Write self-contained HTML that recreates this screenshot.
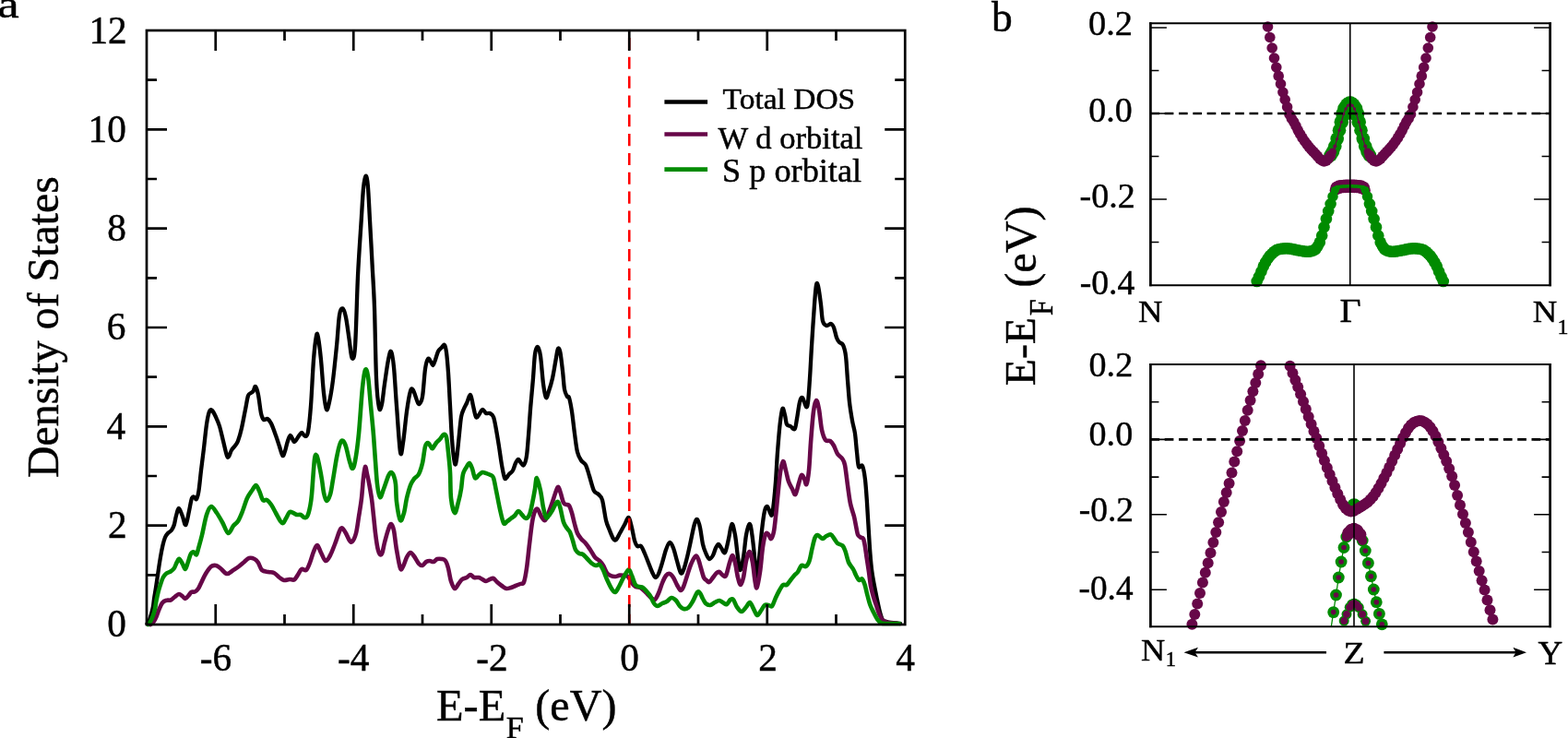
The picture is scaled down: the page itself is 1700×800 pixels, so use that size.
<!DOCTYPE html><html><head><meta charset="utf-8"><style>html,body{margin:0;padding:0;background:#fff;overflow:hidden}svg{display:block}text{font-family:"Liberation Serif","DejaVu Serif",serif;fill:#000;stroke:#000;stroke-width:0.45px}</style></head><body>
<svg width="1700" height="800" viewBox="0 0 1700 800">
<rect width="1700" height="800" fill="#fff"/>
<path d="M159.5 676.0C159.9 675.3 161.2 673.8 162.0 672.0C162.8 670.2 163.5 667.4 164.2 665.0C164.9 662.6 165.5 660.3 166.0 657.5C166.5 654.7 166.6 651.8 167.2 648.0C167.8 644.2 168.6 639.7 169.3 635.0C170.0 630.3 170.8 625.0 171.5 620.0C172.2 615.0 173.0 609.8 173.8 605.0C174.6 600.2 175.6 594.8 176.5 591.0C177.4 587.2 178.1 584.7 179.0 582.5C179.9 580.3 180.9 579.2 182.0 578.0C183.1 576.8 184.6 576.5 185.8 575.0C186.9 573.5 187.9 571.7 188.8 569.0C189.6 566.3 190.1 562.0 191.0 559.0C191.9 556.0 192.8 550.8 194.0 551.0C195.2 551.2 196.8 557.0 198.0 560.0C199.2 563.0 200.2 570.0 201.4 569.0C202.6 568.0 203.9 558.8 205.0 554.0C206.1 549.2 207.0 542.5 208.0 540.0C209.0 537.5 210.2 538.8 211.0 539.0C211.8 539.2 212.2 542.2 213.0 541.0C213.8 539.8 214.7 537.2 215.5 532.0C216.3 526.8 217.1 517.7 218.0 510.0C218.9 502.3 220.0 494.3 221.0 486.0C222.0 477.7 223.0 466.7 224.0 460.0C225.0 453.3 226.0 448.5 227.0 446.0C228.0 443.5 228.8 444.0 230.0 445.0C231.2 446.0 232.7 449.2 234.0 452.0C235.3 454.8 236.7 457.7 238.0 462.0C239.3 466.3 240.7 472.7 242.0 478.0C243.3 483.3 245.0 491.2 246.0 494.0C247.0 496.8 247.2 496.0 248.0 495.0C248.8 494.0 249.8 490.0 251.0 488.0C252.2 486.0 253.8 484.7 255.0 483.0C256.2 481.3 256.8 481.2 258.0 478.0C259.2 474.8 260.7 469.7 262.0 464.0C263.3 458.3 264.8 449.8 266.0 444.0C267.2 438.2 268.0 432.0 269.0 429.0C270.0 426.0 271.1 426.8 272.0 426.0C272.9 425.2 273.8 425.2 274.6 424.0C275.4 422.8 276.1 418.3 277.0 419.0C277.9 419.7 279.0 423.2 280.0 428.0C281.0 432.8 282.0 443.5 283.0 448.0C284.0 452.5 284.8 454.0 286.0 455.0C287.2 456.0 288.7 453.3 290.0 454.0C291.3 454.7 292.5 456.0 294.0 459.0C295.5 462.0 297.5 467.8 299.0 472.0C300.5 476.2 301.8 480.3 303.0 484.0C304.2 487.7 305.4 493.2 306.4 494.0C307.4 494.8 308.1 491.7 309.0 489.0C309.9 486.3 311.0 480.8 312.0 478.0C313.0 475.2 313.8 471.8 315.0 472.0C316.2 472.2 317.7 478.7 319.0 479.0C320.3 479.3 321.7 475.7 323.0 474.0C324.3 472.3 325.7 469.2 327.0 469.0C328.3 468.8 329.8 473.2 331.0 473.0C332.2 472.8 333.0 473.5 334.0 468.0C335.0 462.5 336.0 453.0 337.0 440.0C338.0 427.0 339.0 402.7 340.0 390.0C341.0 377.3 342.2 368.0 343.0 364.0C343.8 360.0 344.2 361.7 345.0 366.0C345.8 370.3 347.0 380.0 348.0 390.0C349.0 400.0 350.0 417.0 351.0 426.0C352.0 435.0 353.0 442.3 354.0 444.0C355.0 445.7 355.8 441.3 357.0 436.0C358.2 430.7 359.7 422.2 361.0 412.0C362.3 401.8 363.8 386.8 365.0 375.0C366.2 363.2 366.9 348.3 368.0 341.5C369.1 334.7 370.3 334.0 371.5 334.4C372.7 334.8 373.8 338.4 375.0 344.0C376.2 349.6 377.5 360.7 378.6 368.0C379.7 375.3 380.5 386.7 381.6 388.0C382.7 389.3 383.9 390.8 385.0 376.0C386.1 361.2 386.9 321.8 388.0 299.0C389.1 276.2 390.7 254.8 391.7 239.0C392.7 223.2 393.2 212.1 394.0 204.0C394.8 195.9 395.6 191.2 396.4 190.7C397.2 190.2 398.0 192.9 398.8 201.0C399.6 209.1 400.2 224.7 401.0 239.0C401.8 253.3 402.8 271.2 403.6 287.0C404.4 302.8 405.3 313.5 406.0 334.0C406.7 354.5 407.2 392.0 408.0 410.0C408.8 428.0 410.0 437.3 411.0 442.0C412.0 446.7 413.0 442.3 414.0 438.0C415.0 433.7 415.8 424.0 417.0 416.0C418.2 408.0 419.8 395.8 421.0 390.0C422.2 384.2 423.0 379.7 424.0 381.0C425.0 382.3 426.0 388.2 427.0 398.0C428.0 407.8 428.8 424.7 430.0 440.0C431.2 455.3 432.8 483.3 434.0 490.0C435.2 496.7 435.8 487.3 437.0 480.0C438.2 472.7 439.7 455.3 441.0 446.0C442.3 436.7 443.8 427.8 445.0 424.0C446.2 420.2 446.8 421.3 448.0 423.0C449.2 424.7 450.9 431.5 452.0 434.0C453.1 436.5 453.6 438.7 454.6 438.0C455.6 437.3 456.9 436.3 458.0 430.0C459.1 423.7 460.0 406.8 461.0 400.0C462.0 393.2 463.0 390.3 464.0 389.0C465.0 387.7 466.1 390.8 467.0 392.0C467.9 393.2 468.6 396.3 469.4 396.0C470.2 395.7 471.1 392.5 472.0 390.0C472.9 387.5 473.9 383.2 475.0 381.0C476.1 378.8 477.4 378.2 478.6 377.0C479.8 375.8 481.1 373.2 482.0 374.0C482.9 374.8 483.3 377.0 484.0 382.0C484.7 387.0 485.3 394.3 486.0 404.0C486.7 413.7 487.3 428.0 488.0 440.0C488.7 452.0 489.2 465.7 490.0 476.0C490.8 486.3 492.2 498.3 493.0 502.0C493.8 505.7 494.3 502.3 495.0 498.0C495.7 493.7 496.6 483.7 497.4 476.0C498.2 468.3 499.1 457.5 500.0 452.0C500.9 446.5 502.0 445.5 503.0 443.0C504.0 440.5 504.8 439.5 506.0 437.0C507.2 434.5 508.8 427.5 510.0 428.0C511.2 428.5 512.0 436.0 513.0 440.0C514.0 444.0 515.0 450.3 516.0 452.0C517.0 453.7 517.8 451.3 519.0 450.0C520.2 448.7 521.7 444.3 523.0 444.0C524.3 443.7 525.7 447.3 527.0 448.0C528.3 448.7 529.7 447.3 531.0 448.0C532.3 448.7 533.8 449.0 535.0 452.0C536.2 455.0 537.0 460.7 538.0 466.0C539.0 471.3 540.0 477.7 541.0 484.0C542.0 490.3 543.0 498.3 544.0 504.0C545.0 509.7 546.2 515.7 547.0 518.0C547.8 520.3 548.2 518.7 549.0 518.0C549.8 517.3 550.8 515.3 552.0 514.0C553.2 512.7 554.8 512.0 556.0 510.0C557.2 508.0 558.0 504.0 559.0 502.0C560.0 500.0 561.0 498.0 562.0 498.0C563.0 498.0 564.0 501.0 565.0 502.0C566.0 503.0 567.0 505.3 568.0 504.0C569.0 502.7 570.2 499.3 571.0 494.0C571.8 488.7 572.3 480.3 573.0 472.0C573.7 463.7 574.2 454.3 575.0 444.0C575.8 433.7 577.2 420.0 578.0 410.0C578.8 400.0 579.2 389.7 580.0 384.0C580.8 378.3 582.0 375.7 583.0 376.0C584.0 376.3 585.0 379.3 586.0 386.0C587.0 392.7 588.0 408.5 589.0 416.0C590.0 423.5 591.0 429.7 592.0 431.0C593.0 432.3 593.8 427.5 595.0 424.0C596.2 420.5 597.7 415.7 599.0 410.0C600.3 404.3 601.6 395.3 602.6 390.0C603.6 384.7 604.2 379.3 605.0 378.0C605.8 376.7 606.6 378.0 607.4 382.0C608.2 386.0 609.2 395.3 610.0 402.0C610.8 408.7 611.2 417.3 612.0 422.0C612.8 426.7 614.2 428.5 615.0 430.0C615.8 431.5 616.2 428.3 617.0 431.0C617.8 433.7 619.0 439.5 620.0 446.0C621.0 452.5 622.0 462.7 623.0 470.0C624.0 477.3 624.8 485.2 626.0 490.0C627.2 494.8 628.5 496.7 630.0 499.0C631.5 501.3 633.5 501.2 635.0 504.0C636.5 506.8 637.5 511.3 639.0 516.0C640.5 520.7 642.3 528.7 644.0 532.0C645.7 535.3 647.5 534.3 649.0 536.0C650.5 537.7 651.7 537.3 653.0 542.0C654.3 546.7 655.7 558.5 657.0 564.0C658.3 569.5 659.7 571.7 661.0 575.0C662.3 578.3 663.8 582.3 665.0 584.0C666.2 585.7 666.8 586.0 668.0 585.0C669.2 584.0 670.5 580.7 672.0 578.0C673.5 575.3 675.4 571.8 677.0 569.0C678.6 566.2 680.3 560.5 681.6 561.0C682.9 561.5 683.9 567.8 685.0 572.0C686.1 576.2 687.0 582.7 688.0 586.0C689.0 589.3 689.8 591.0 691.0 592.0C692.2 593.0 693.7 590.7 695.0 592.0C696.3 593.3 697.7 597.0 699.0 600.0C700.3 603.0 701.7 606.7 703.0 610.0C704.3 613.3 705.7 617.3 707.0 620.0C708.3 622.7 709.4 625.7 710.6 626.0C711.8 626.3 712.8 624.7 714.0 622.0C715.2 619.3 716.7 614.3 718.0 610.0C719.3 605.7 720.7 599.7 722.0 596.0C723.3 592.3 724.7 588.3 726.0 588.0C727.3 587.7 728.7 590.7 730.0 594.0C731.3 597.3 732.7 603.5 734.0 608.0C735.3 612.5 736.8 619.3 738.0 621.0C739.2 622.7 739.8 620.8 741.0 618.0C742.2 615.2 743.7 609.3 745.0 604.0C746.3 598.7 747.7 592.0 749.0 586.0C750.3 580.0 751.8 571.8 753.0 568.0C754.2 564.2 755.0 562.3 756.0 563.0C757.0 563.7 758.0 567.5 759.0 572.0C760.0 576.5 761.0 585.5 762.0 590.0C763.0 594.5 763.8 596.3 765.0 599.0C766.2 601.7 767.7 605.5 769.0 606.0C770.3 606.5 771.8 604.0 773.0 602.0C774.2 600.0 775.0 596.0 776.0 594.0C777.0 592.0 778.0 590.0 779.0 590.0C780.0 590.0 780.8 592.5 782.0 594.0C783.2 595.5 784.7 600.7 786.0 599.0C787.3 597.3 788.8 589.2 790.0 584.0C791.2 578.8 792.2 568.7 793.4 568.0C794.6 567.3 795.9 574.0 797.0 580.0C798.1 586.0 799.1 597.7 800.0 604.0C800.9 610.3 801.6 618.0 802.6 618.0C803.6 618.0 804.9 610.3 806.0 604.0C807.1 597.7 807.9 586.0 809.0 580.0C810.1 574.0 811.6 568.5 812.6 568.0C813.6 567.5 814.2 571.8 815.0 577.0C815.8 582.2 816.8 590.8 817.6 599.0C818.4 607.2 819.1 624.5 820.0 626.0C820.9 627.5 821.7 616.5 822.7 608.0C823.7 599.5 825.0 584.0 826.0 575.0C827.0 566.0 828.0 558.3 829.0 554.0C830.0 549.7 831.0 548.7 832.0 549.0C833.0 549.3 834.2 554.5 835.0 556.0C835.8 557.5 836.3 560.0 837.0 558.0C837.7 556.0 838.3 550.0 839.0 544.0C839.7 538.0 840.3 531.0 841.0 522.0C841.7 513.0 842.2 500.3 843.0 490.0C843.8 479.7 844.7 467.8 845.6 460.0C846.5 452.2 847.5 444.7 848.4 443.0C849.3 441.3 850.2 447.2 851.0 450.0C851.8 452.8 852.0 458.0 853.0 460.0C854.0 462.0 855.6 461.2 857.0 462.0C858.4 462.8 860.4 466.3 861.6 465.0C862.8 463.7 863.1 458.8 864.0 454.0C864.9 449.2 866.0 439.8 867.0 436.0C868.0 432.2 868.8 430.2 870.0 431.0C871.2 431.8 873.0 440.2 874.0 441.0C875.0 441.8 875.3 441.2 876.0 436.0C876.7 430.8 877.3 420.2 878.0 410.0C878.7 399.8 879.2 388.3 880.0 375.0C880.8 361.7 882.2 341.0 883.0 330.0C883.8 319.0 884.3 312.3 885.0 309.0C885.7 305.7 886.2 306.5 887.0 310.0C887.8 313.5 889.2 323.7 890.0 330.0C890.8 336.3 891.0 344.2 892.0 348.0C893.0 351.8 894.5 352.5 896.0 353.0C897.5 353.5 899.7 350.7 901.0 351.0C902.3 351.3 903.0 352.5 904.0 355.0C905.0 357.5 906.0 363.3 907.0 366.0C908.0 368.7 908.8 369.7 910.0 371.0C911.2 372.3 912.8 371.5 914.0 374.0C915.2 376.5 916.2 379.7 917.0 386.0C917.8 392.3 918.3 403.7 919.0 412.0C919.7 420.3 920.2 428.7 921.0 436.0C921.8 443.3 923.0 450.3 924.0 456.0C925.0 461.7 926.2 464.3 927.0 470.0C927.8 475.7 928.3 484.0 929.0 490.0C929.7 496.0 930.0 503.5 931.0 506.0C932.0 508.5 933.8 502.7 935.0 505.0C936.2 507.3 937.2 513.3 938.0 520.0C938.8 526.7 939.2 533.3 940.0 545.0C940.8 556.7 941.9 578.0 942.7 590.0C943.5 602.0 944.1 609.5 945.0 617.0C945.9 624.5 947.0 629.5 948.0 635.0C949.0 640.5 950.0 645.2 951.0 650.0C952.0 654.8 953.0 659.8 954.0 663.5C955.0 667.2 956.0 670.3 957.0 672.0C958.0 673.7 958.5 673.0 960.0 673.5C961.5 674.0 963.3 674.6 966.0 675.0C968.7 675.4 974.3 675.8 976.0 676.0" fill="none" stroke="#000" stroke-width="4.3" stroke-linejoin="round" stroke-linecap="round"/>
<path d="M163.0 677.0C163.6 676.5 165.4 675.4 166.5 674.0C167.6 672.6 168.5 670.8 169.5 668.5C170.5 666.2 171.4 663.0 172.5 660.5C173.6 658.0 174.7 655.1 176.0 653.5C177.3 651.9 179.0 651.2 180.5 650.8C182.0 650.2 183.5 651.1 185.0 650.5C186.5 649.9 188.0 648.1 189.5 647.0C191.0 645.9 192.6 644.1 194.0 644.0C195.4 643.9 196.6 645.4 197.8 646.2C198.9 647.1 199.6 649.1 200.8 649.0C201.9 648.9 203.4 646.7 204.5 645.5C205.6 644.3 206.4 642.4 207.5 641.8C208.6 641.1 210.0 642.1 211.2 641.5C212.5 640.9 213.9 639.6 215.0 638.0C216.1 636.4 216.7 634.7 218.0 632.0C219.3 629.3 221.2 625.0 223.0 622.0C224.8 619.0 227.2 615.5 229.0 614.0C230.8 612.5 232.3 612.7 234.0 613.0C235.7 613.3 237.0 614.5 239.0 616.0C241.0 617.5 243.7 621.7 246.0 622.0C248.3 622.3 250.8 619.3 253.0 618.0C255.2 616.7 257.0 615.5 259.0 614.0C261.0 612.5 263.2 610.5 265.0 609.0C266.8 607.5 268.2 605.5 270.0 605.0C271.8 604.5 274.3 605.2 276.0 606.0C277.7 606.8 278.7 608.0 280.0 610.0C281.3 612.0 282.2 616.3 284.0 618.0C285.8 619.7 288.8 619.5 291.0 620.0C293.2 620.5 295.0 620.0 297.0 621.0C299.0 622.0 301.2 624.7 303.0 626.0C304.8 627.3 306.2 628.7 308.0 629.0C309.8 629.3 312.2 628.1 314.0 628.0C315.8 627.9 317.5 629.2 319.0 628.4C320.5 627.6 321.7 624.9 323.0 623.0C324.3 621.1 325.5 617.8 327.0 617.0C328.5 616.2 330.5 619.2 332.0 618.0C333.5 616.8 334.7 613.3 336.0 610.0C337.3 606.7 338.7 601.2 340.0 598.0C341.3 594.8 342.7 590.8 344.0 591.0C345.3 591.2 346.5 596.2 348.0 599.0C349.5 601.8 351.3 607.5 353.0 608.0C354.7 608.5 356.3 605.0 358.0 602.0C359.7 599.0 361.3 594.3 363.0 590.0C364.7 585.7 366.7 578.9 368.0 576.0C369.3 573.1 369.8 572.1 371.0 572.4C372.2 572.7 373.7 575.7 375.0 578.0C376.3 580.3 377.8 584.5 379.0 586.0C380.2 587.5 380.8 588.3 382.0 587.0C383.2 585.7 384.8 582.5 386.0 578.0C387.2 573.5 388.0 566.3 389.0 560.0C390.0 553.7 391.2 547.0 392.0 540.0C392.8 533.0 393.3 523.7 394.0 518.0C394.7 512.3 395.3 506.7 396.0 506.0C396.7 505.3 397.2 510.7 398.0 514.0C398.8 517.3 399.7 521.5 400.5 526.0C401.3 530.5 402.2 535.5 403.0 541.0C403.8 546.5 404.3 552.8 405.0 559.0C405.7 565.2 406.3 572.2 407.0 578.0C407.7 583.8 408.6 590.2 409.4 594.0C410.2 597.8 411.1 600.2 412.0 601.0C412.9 601.8 413.7 601.2 414.5 599.0C415.3 596.8 415.9 592.2 417.0 588.0C418.1 583.8 419.8 577.3 421.0 574.0C422.2 570.7 423.0 567.8 424.0 568.0C425.0 568.2 426.0 570.3 427.0 575.0C428.0 579.7 428.8 589.2 430.0 596.0C431.2 602.8 432.8 613.0 434.0 616.0C435.2 619.0 435.8 616.0 437.0 614.0C438.2 612.0 439.7 606.5 441.0 604.0C442.3 601.5 443.7 599.2 445.0 599.0C446.3 598.8 447.5 601.0 449.0 603.0C450.5 605.0 452.5 609.3 454.0 611.0C455.5 612.7 456.7 613.3 458.0 613.0C459.3 612.7 460.7 609.8 462.0 609.0C463.3 608.2 464.7 608.0 466.0 608.0C467.3 608.0 468.7 609.3 470.0 609.0C471.3 608.7 472.5 606.5 474.0 606.0C475.5 605.5 477.5 605.7 479.0 606.0C480.5 606.3 481.8 606.3 483.0 608.0C484.2 609.7 485.0 612.3 486.0 616.0C487.0 619.7 487.8 626.3 489.0 630.0C490.2 633.7 491.7 637.5 493.0 638.0C494.3 638.5 495.7 634.7 497.0 633.0C498.3 631.3 499.5 629.2 501.0 628.0C502.5 626.8 504.5 626.8 506.0 626.0C507.5 625.2 508.7 623.0 510.0 623.0C511.3 623.0 512.5 625.5 514.0 626.0C515.5 626.5 517.5 625.7 519.0 626.0C520.5 626.3 521.7 627.3 523.0 628.0C524.3 628.7 525.7 630.0 527.0 630.0C528.3 630.0 529.7 628.5 531.0 628.0C532.3 627.5 533.7 626.5 535.0 627.0C536.3 627.5 537.5 629.7 539.0 631.0C540.5 632.3 542.3 633.8 544.0 635.0C545.7 636.2 547.3 637.7 549.0 638.0C550.7 638.3 552.3 637.5 554.0 637.0C555.7 636.5 557.3 635.7 559.0 635.0C560.7 634.3 562.5 633.7 564.0 633.0C565.5 632.3 566.8 633.8 568.0 631.0C569.2 628.2 570.0 622.8 571.0 616.0C572.0 609.2 573.0 598.3 574.0 590.0C575.0 581.7 576.0 572.0 577.0 566.0C578.0 560.0 579.0 556.3 580.0 554.0C581.0 551.7 581.8 551.0 583.0 552.0C584.2 553.0 585.7 558.0 587.0 560.0C588.3 562.0 589.7 564.8 591.0 564.0C592.3 563.2 593.7 558.3 595.0 555.0C596.3 551.7 597.7 547.8 599.0 544.0C600.3 540.2 601.9 534.7 603.0 532.0C604.1 529.3 604.6 527.5 605.4 528.0C606.2 528.5 607.1 532.2 608.0 535.0C608.9 537.8 610.0 543.0 611.0 545.0C612.0 547.0 613.0 546.5 614.0 547.0C615.0 547.5 616.0 546.5 617.0 548.0C618.0 549.5 619.0 552.7 620.0 556.0C621.0 559.3 622.0 564.3 623.0 568.0C624.0 571.7 624.8 575.3 626.0 578.0C627.2 580.7 628.5 582.2 630.0 584.0C631.5 585.8 633.3 587.0 635.0 589.0C636.7 591.0 638.3 593.5 640.0 596.0C641.7 598.5 643.3 602.0 645.0 604.0C646.7 606.0 648.5 606.5 650.0 608.0C651.5 609.5 652.7 610.8 654.0 613.0C655.3 615.2 656.7 619.2 658.0 621.0C659.3 622.8 660.5 623.3 662.0 624.0C663.5 624.7 665.3 625.1 667.0 625.0C668.7 624.9 670.3 623.8 672.0 623.6C673.7 623.4 675.5 623.8 677.0 624.0C678.5 624.2 679.7 623.7 681.0 625.0C682.3 626.3 683.7 630.2 685.0 632.0C686.3 633.8 687.5 635.2 689.0 636.0C690.5 636.8 692.5 636.3 694.0 637.0C695.5 637.7 696.7 638.8 698.0 640.0C699.3 641.2 700.7 642.7 702.0 644.0C703.3 645.3 704.7 647.0 706.0 648.0C707.3 649.0 708.7 650.8 710.0 650.0C711.3 649.2 712.7 646.0 714.0 643.0C715.3 640.0 716.7 635.2 718.0 632.0C719.3 628.8 720.7 625.7 722.0 624.0C723.3 622.3 724.7 621.7 726.0 622.0C727.3 622.3 728.7 624.0 730.0 626.0C731.3 628.0 732.7 631.7 734.0 634.0C735.3 636.3 736.8 639.7 738.0 640.0C739.2 640.3 739.8 638.7 741.0 636.0C742.2 633.3 743.7 628.0 745.0 624.0C746.3 620.0 747.5 615.5 749.0 612.0C750.5 608.5 752.7 604.0 754.0 603.0C755.3 602.0 756.0 603.8 757.0 606.0C758.0 608.2 759.0 612.7 760.0 616.0C761.0 619.3 762.0 623.8 763.0 626.0C764.0 628.2 765.0 628.2 766.0 629.0C767.0 629.8 767.8 631.5 769.0 631.0C770.2 630.5 771.7 627.7 773.0 626.0C774.3 624.3 775.8 622.0 777.0 621.0C778.2 620.0 779.0 619.7 780.0 620.0C781.0 620.3 781.8 622.3 783.0 623.0C784.2 623.7 785.7 626.2 787.0 624.0C788.3 621.8 789.8 613.7 791.0 610.0C792.2 606.3 793.0 602.0 794.0 602.0C795.0 602.0 796.0 606.0 797.0 610.0C798.0 614.0 799.0 622.0 800.0 626.0C801.0 630.0 802.0 634.0 803.0 634.0C804.0 634.0 805.0 630.3 806.0 626.0C807.0 621.7 807.9 612.7 809.0 608.0C810.1 603.3 811.4 597.7 812.6 598.0C813.8 598.3 815.0 604.7 816.0 610.0C817.0 615.3 817.8 625.5 818.6 630.0C819.4 634.5 819.7 638.7 820.6 637.0C821.5 635.3 822.9 627.3 824.0 620.0C825.1 612.7 826.0 599.8 827.0 593.0C828.0 586.2 829.0 581.3 830.0 579.0C831.0 576.7 832.0 578.2 833.0 579.0C834.0 579.8 835.0 584.5 836.0 584.0C837.0 583.5 838.2 580.0 839.0 576.0C839.8 572.0 840.3 566.0 841.0 560.0C841.7 554.0 842.2 548.0 843.0 540.0C843.8 532.0 845.0 518.7 846.0 512.0C847.0 505.3 848.0 500.3 849.0 500.0C850.0 499.7 851.0 506.3 852.0 510.0C853.0 513.7 853.8 518.7 855.0 522.0C856.2 525.3 857.8 527.7 859.0 530.0C860.2 532.3 861.2 537.0 862.4 536.0C863.6 535.0 864.9 527.5 866.0 524.0C867.1 520.5 868.0 515.8 869.0 515.0C870.0 514.2 871.1 517.3 872.0 519.0C872.9 520.7 873.6 526.5 874.4 525.0C875.2 523.5 876.2 517.5 877.0 510.0C877.8 502.5 878.2 490.7 879.0 480.0C879.8 469.3 881.0 453.7 882.0 446.0C883.0 438.3 884.0 434.3 885.0 434.0C886.0 433.7 887.0 438.7 888.0 444.0C889.0 449.3 889.8 460.5 891.0 466.0C892.2 471.5 893.5 475.0 895.0 477.0C896.5 479.0 898.5 477.0 900.0 478.0C901.5 479.0 902.7 480.7 904.0 483.0C905.3 485.3 906.5 489.7 908.0 492.0C909.5 494.3 911.7 495.0 913.0 497.0C914.3 499.0 915.0 499.2 916.0 504.0C917.0 508.8 918.0 519.0 919.0 526.0C920.0 533.0 920.8 540.3 922.0 546.0C923.2 551.7 925.0 556.0 926.0 560.0C927.0 564.0 927.3 566.8 928.0 570.0C928.7 573.2 929.2 577.4 930.0 579.5C930.8 581.6 932.0 581.8 933.0 582.5C934.0 583.2 935.2 582.2 936.0 584.0C936.8 585.8 937.4 589.5 938.0 593.0C938.6 596.5 939.0 600.5 939.7 605.0C940.4 609.5 941.3 615.0 942.0 620.0C942.7 625.0 943.2 630.5 944.0 635.0C944.8 639.5 946.0 643.5 947.0 647.0C948.0 650.5 949.0 653.0 950.0 656.0C951.0 659.0 951.8 662.2 953.0 665.0C954.2 667.8 955.3 670.8 957.0 672.5C958.7 674.2 960.5 674.5 963.0 675.0C965.5 675.5 970.5 675.4 972.0 675.5" fill="none" stroke="#670748" stroke-width="4.6" stroke-linejoin="round" stroke-linecap="round"/>
<path d="M160.5 677.0C161.0 676.3 162.6 674.7 163.5 673.0C164.4 671.3 165.2 669.2 166.0 667.0C166.8 664.8 167.4 662.7 168.0 660.0C168.6 657.3 168.9 654.0 169.5 651.0C170.1 648.0 170.8 644.7 171.5 642.0C172.2 639.3 172.6 637.7 173.5 635.0C174.4 632.3 175.6 628.2 176.8 626.0C177.9 623.8 179.1 622.6 180.5 621.5C181.9 620.4 183.6 620.4 185.0 619.5C186.4 618.6 187.6 617.7 188.8 616.0C189.9 614.3 190.8 611.2 191.8 609.5C192.7 607.8 193.3 605.5 194.3 605.8C195.3 606.0 196.7 609.1 197.8 611.0C198.8 612.9 199.8 617.2 200.8 617.0C201.8 616.8 202.8 612.2 203.8 609.5C204.8 606.8 205.8 602.4 206.8 600.5C207.8 598.6 208.8 598.1 209.8 598.2C210.8 598.4 211.9 602.0 212.8 601.5C213.6 601.0 214.0 598.6 215.0 595.0C216.0 591.4 217.5 586.2 219.0 580.0C220.5 573.8 222.3 563.2 224.0 558.0C225.7 552.8 227.2 549.3 229.0 549.0C230.8 548.7 233.0 553.2 235.0 556.0C237.0 558.8 238.9 562.3 241.0 566.0C243.1 569.7 245.4 577.3 247.4 578.0C249.4 578.7 251.2 572.2 253.0 570.0C254.8 567.8 256.3 567.7 258.0 565.0C259.7 562.3 261.3 558.2 263.0 554.0C264.7 549.8 266.3 543.7 268.0 540.0C269.7 536.3 271.4 534.3 273.0 532.0C274.6 529.7 276.1 526.0 277.4 526.0C278.7 526.0 279.7 529.3 281.0 532.0C282.3 534.7 283.6 540.3 285.0 542.0C286.4 543.7 287.9 541.2 289.4 542.0C290.9 542.8 292.4 544.7 294.0 547.0C295.6 549.3 297.3 553.0 299.0 556.0C300.7 559.0 302.7 563.2 304.0 565.0C305.3 566.8 306.0 567.5 307.0 567.0C308.0 566.5 308.8 564.0 310.0 562.0C311.2 560.0 312.7 556.0 314.0 555.0C315.3 554.0 316.7 555.5 318.0 556.0C319.3 556.5 320.7 557.7 322.0 558.0C323.3 558.3 324.7 557.5 326.0 558.0C327.3 558.5 328.8 560.7 330.0 561.0C331.2 561.3 332.0 561.8 333.0 560.0C334.0 558.2 335.2 554.0 336.0 550.0C336.8 546.0 337.2 544.7 338.0 536.0C338.8 527.3 340.1 505.0 341.0 498.0C341.9 491.0 342.6 493.0 343.4 494.0C344.2 495.0 345.1 499.7 346.0 504.0C346.9 508.3 348.2 515.0 349.0 520.0C349.8 525.0 350.2 530.2 351.0 534.0C351.8 537.8 352.8 542.7 354.0 543.0C355.2 543.3 356.8 539.8 358.0 536.0C359.2 532.2 359.8 526.7 361.0 520.0C362.2 513.3 363.7 502.7 365.0 496.0C366.3 489.3 367.8 483.0 369.0 480.0C370.2 477.0 371.0 477.3 372.0 478.0C373.0 478.7 373.8 480.3 375.0 484.0C376.2 487.7 377.8 496.0 379.0 500.0C380.2 504.0 381.0 508.0 382.0 508.0C383.0 508.0 383.8 506.3 385.0 500.0C386.2 493.7 387.7 483.3 389.0 470.0C390.3 456.7 391.8 431.5 393.0 420.0C394.2 408.5 395.0 403.0 396.0 401.0C397.0 399.0 398.0 401.5 399.0 408.0C400.0 414.5 401.0 429.3 402.0 440.0C403.0 450.7 404.2 462.0 405.0 472.0C405.8 482.0 406.3 491.2 407.0 500.0C407.7 508.8 408.2 518.5 409.0 525.0C409.8 531.5 410.8 538.2 412.0 539.0C413.2 539.8 414.5 533.8 416.0 530.0C417.5 526.2 419.7 519.0 421.0 516.0C422.3 513.0 423.0 512.0 424.0 512.0C425.0 512.0 426.2 513.8 427.0 516.0C427.8 518.2 428.5 520.3 429.0 525.0C429.5 529.7 429.2 537.5 430.0 544.0C430.8 550.5 432.7 562.0 434.0 564.0C435.3 566.0 436.8 560.0 438.0 556.0C439.2 552.0 439.8 545.0 441.0 540.0C442.2 535.0 443.7 529.5 445.0 526.0C446.3 522.5 447.5 521.0 449.0 519.0C450.5 517.0 452.5 516.8 454.0 514.0C455.5 511.2 456.8 507.0 458.0 502.0C459.2 497.0 460.0 487.7 461.0 484.0C462.0 480.3 463.0 480.0 464.0 480.0C465.0 480.0 466.2 483.0 467.0 484.0C467.8 485.0 468.0 486.7 469.0 486.0C470.0 485.3 471.7 481.7 473.0 480.0C474.3 478.3 475.7 477.5 477.0 476.0C478.3 474.5 479.8 471.3 481.0 471.0C482.2 470.7 483.2 470.8 484.0 474.0C484.8 477.2 485.3 483.7 486.0 490.0C486.7 496.3 487.5 503.7 488.0 512.0C488.5 520.3 488.2 532.7 489.0 540.0C489.8 547.3 491.7 555.3 493.0 556.0C494.3 556.7 495.8 548.3 497.0 544.0C498.2 539.7 499.2 535.0 500.0 530.0C500.8 525.0 501.0 518.0 502.0 514.0C503.0 510.0 504.8 508.0 506.0 506.0C507.2 504.0 508.0 501.7 509.0 502.0C510.0 502.3 511.0 505.3 512.0 508.0C513.0 510.7 513.8 516.8 515.0 518.0C516.2 519.2 517.7 516.0 519.0 515.0C520.3 514.0 521.7 512.3 523.0 512.0C524.3 511.7 525.5 512.5 527.0 513.0C528.5 513.5 530.7 514.2 532.0 515.0C533.3 515.8 534.0 515.2 535.0 518.0C536.0 520.8 536.8 526.3 538.0 532.0C539.2 537.7 540.7 546.2 542.0 552.0C543.3 557.8 544.7 564.8 546.0 567.0C547.3 569.2 548.7 565.8 550.0 565.0C551.3 564.2 552.7 563.0 554.0 562.0C555.3 561.0 556.7 560.3 558.0 559.0C559.3 557.7 560.7 554.2 562.0 554.0C563.3 553.8 564.7 556.7 566.0 558.0C567.3 559.3 568.7 562.0 570.0 562.0C571.3 562.0 572.8 560.7 574.0 558.0C575.2 555.3 576.0 550.7 577.0 546.0C578.0 541.3 579.2 534.7 580.0 530.0C580.8 525.3 581.0 517.7 582.0 518.0C583.0 518.3 584.8 526.7 586.0 532.0C587.2 537.3 588.0 545.2 589.0 550.0C590.0 554.8 591.0 559.5 592.0 561.0C593.0 562.5 593.8 560.3 595.0 559.0C596.2 557.7 597.5 555.5 599.0 553.0C600.5 550.5 602.7 544.7 604.0 544.0C605.3 543.3 605.8 545.3 607.0 549.0C608.2 552.7 609.7 562.0 611.0 566.0C612.3 570.0 613.8 571.2 615.0 573.0C616.2 574.8 617.0 574.8 618.0 577.0C619.0 579.2 620.0 582.8 621.0 586.0C622.0 589.2 622.8 593.7 624.0 596.0C625.2 598.3 626.7 599.2 628.0 600.0C629.3 600.8 630.5 600.0 632.0 601.0C633.5 602.0 635.3 604.3 637.0 606.0C638.7 607.7 640.5 609.8 642.0 611.0C643.5 612.2 644.7 612.8 646.0 613.0C647.3 613.2 648.7 611.2 650.0 612.0C651.3 612.8 652.7 615.3 654.0 618.0C655.3 620.7 656.5 624.7 658.0 628.0C659.5 631.3 661.5 635.7 663.0 638.0C664.5 640.3 665.7 642.3 667.0 642.0C668.3 641.7 669.5 638.7 671.0 636.0C672.5 633.3 674.2 629.1 676.0 626.0C677.8 622.9 680.1 617.9 681.6 617.6C683.1 617.3 683.8 621.3 685.0 624.0C686.2 626.7 687.7 632.0 689.0 634.0C690.3 636.0 691.7 635.5 693.0 636.0C694.3 636.5 695.7 636.2 697.0 637.0C698.3 637.8 699.7 639.5 701.0 641.0C702.3 642.5 703.7 643.8 705.0 646.0C706.3 648.2 707.7 652.2 709.0 654.0C710.3 655.8 711.5 657.0 713.0 657.0C714.5 657.0 716.3 654.8 718.0 654.0C719.7 653.2 721.3 653.0 723.0 652.0C724.7 651.0 726.3 648.2 728.0 648.0C729.7 647.8 731.5 649.5 733.0 651.0C734.5 652.5 735.7 655.5 737.0 657.0C738.3 658.5 739.5 659.7 741.0 660.0C742.5 660.3 744.3 660.3 746.0 659.0C747.7 657.7 749.3 654.8 751.0 652.0C752.7 649.2 754.7 643.5 756.0 642.0C757.3 640.5 758.0 641.8 759.0 643.0C760.0 644.2 761.0 647.2 762.0 649.0C763.0 650.8 763.7 652.8 765.0 654.0C766.3 655.2 768.3 656.2 770.0 656.0C771.7 655.8 773.3 653.8 775.0 653.0C776.7 652.2 778.3 650.8 780.0 651.0C781.7 651.2 783.7 653.3 785.0 654.0C786.3 654.7 786.8 655.7 788.0 655.0C789.2 654.3 790.8 650.8 792.0 650.0C793.2 649.2 793.8 648.7 795.0 650.0C796.2 651.3 797.5 655.8 799.0 658.0C800.5 660.2 802.3 663.0 804.0 663.0C805.7 663.0 807.5 659.7 809.0 658.0C810.5 656.3 811.7 652.7 813.0 653.0C814.3 653.3 815.7 657.7 817.0 660.0C818.3 662.3 819.7 666.7 821.0 667.0C822.3 667.3 823.7 663.8 825.0 662.0C826.3 660.2 827.7 657.0 829.0 656.0C830.3 655.0 831.7 655.8 833.0 656.0C834.3 656.2 835.7 658.3 837.0 657.0C838.3 655.7 839.7 650.8 841.0 648.0C842.3 645.2 843.7 642.3 845.0 640.0C846.3 637.7 847.7 635.0 849.0 634.0C850.3 633.0 851.7 634.8 853.0 634.0C854.3 633.2 855.7 630.7 857.0 629.0C858.3 627.3 859.7 625.5 861.0 624.0C862.3 622.5 863.7 621.8 865.0 620.0C866.3 618.2 867.5 614.0 869.0 613.0C870.5 612.0 872.3 614.8 873.8 614.0C875.2 613.2 876.4 611.2 877.5 608.0C878.6 604.8 879.5 598.7 880.5 594.5C881.5 590.3 882.5 585.4 883.5 583.0C884.5 580.6 885.1 579.8 886.5 580.0C887.9 580.2 890.2 583.8 891.8 584.0C893.3 584.2 894.5 581.8 896.0 581.0C897.5 580.2 899.3 579.0 900.8 579.5C902.2 580.0 903.3 582.4 904.5 584.0C905.7 585.6 906.5 587.8 908.0 589.0C909.5 590.2 912.1 590.1 913.5 591.5C914.9 592.9 915.4 594.5 916.5 597.5C917.6 600.5 918.6 606.2 920.0 609.5C921.4 612.8 923.6 614.5 925.0 617.0C926.4 619.5 927.4 622.5 928.5 624.5C929.6 626.5 930.5 628.5 931.5 629.0C932.5 629.5 933.5 626.8 934.5 627.5C935.5 628.2 936.5 630.5 937.5 633.5C938.5 636.5 939.5 641.8 940.5 645.5C941.5 649.2 942.4 653.0 943.5 656.0C944.6 659.0 945.8 661.0 947.0 663.5C948.2 666.0 949.6 669.0 951.0 671.0C952.4 673.0 953.5 674.7 955.5 675.5C957.5 676.3 959.8 675.9 963.0 676.0C966.2 676.1 973.0 676.0 975.0 676.0" fill="none" stroke="#008b00" stroke-width="4.6" stroke-linejoin="round" stroke-linecap="round"/>
<line x1="682.25" y1="33.0" x2="682.25" y2="677.0" stroke="#ff0000" stroke-width="2.6" stroke-dasharray="13.1 7.73" stroke-dashoffset="12.9"/>
<path d="M233.75 677.0v-22M233.75 33.0v22M308.50 677.0v-11M308.50 33.0v11M383.25 677.0v-22M383.25 33.0v22M458.00 677.0v-11M458.00 33.0v11M532.75 677.0v-22M532.75 33.0v22M607.50 677.0v-11M607.50 33.0v11M682.25 677.0v-22M682.25 33.0v22M757.00 677.0v-11M757.00 33.0v11M831.75 677.0v-22M831.75 33.0v22M906.50 677.0v-11M906.50 33.0v11M159.0 623.33h11M981.25 623.33h-11M159.0 569.67h22M981.25 569.67h-22M159.0 516.00h11M981.25 516.00h-11M159.0 462.33h22M981.25 462.33h-22M159.0 408.67h11M981.25 408.67h-11M159.0 355.00h22M981.25 355.00h-22M159.0 301.33h11M981.25 301.33h-11M159.0 247.67h22M981.25 247.67h-22M159.0 194.00h11M981.25 194.00h-11M159.0 140.33h22M981.25 140.33h-22M159.0 86.67h11M981.25 86.67h-11" stroke="#000" stroke-width="2.7" fill="none"/>
<rect x="159.0" y="33.0" width="822.25" height="644.0" fill="none" stroke="#000" stroke-width="2.7"/>
<path d="M720.4 110.5H767.1" stroke="#000" stroke-width="4.6"/>
<path d="M720.4 145.55H767.1" stroke="#670748" stroke-width="4.6"/>
<path d="M720.4 183.6H767.1" stroke="#008b00" stroke-width="4.6"/>
<text transform="translate(116.20,690.01)" font-size="41.30">0</text>
<text transform="translate(117.03,583.09)" font-size="41.30">2</text>
<text transform="translate(115.38,475.76)" font-size="41.30">4</text>
<text transform="translate(115.79,368.01)" font-size="41.30">6</text>
<text transform="translate(116.20,260.68)" font-size="41.30">8</text>
<text transform="translate(95.55,153.55)" font-size="41.30">10</text>
<text transform="translate(96.38,46.63)" font-size="41.30">12</text>
<text transform="translate(216.80,726.91)" font-size="41.30">-6</text>
<text transform="translate(365.89,727.32)" font-size="41.30">-4</text>
<text transform="translate(516.22,727.32)" font-size="41.30">-2</text>
<text transform="translate(672.32,726.91)" font-size="41.30">0</text>
<text transform="translate(822.24,727.32)" font-size="41.30">2</text>
<text transform="translate(971.32,727.32)" font-size="41.30">4</text>
<text transform="translate(473.05,780.90)" font-size="48.38">E-E</text>
<text transform="translate(548.87,800.00) scale(1.0054,1)" font-size="34.00">F</text>
<text transform="translate(580.32,780.90) scale(1.0039,1)" font-size="47.99">(eV)</text>
<text transform="translate(62.80,518.04) rotate(-90) scale(0.9890,1)" font-size="48.38">Density of States</text>
<text transform="translate(783.53,118.00) scale(1.0388,1)" font-size="32.23">Total DOS</text>
<text transform="translate(778.50,160.80) scale(1.0270,1)" font-size="33.72">W d orbital</text>
<text transform="translate(782.96,196.80) scale(1.0282,1)" font-size="35.29">S p orbital</text>
<text transform="translate(1075.00,34.05)" font-size="45.43">b</text>
<text transform="translate(1180.00,37.86)" font-size="38.37">0.2</text>
<text transform="translate(1180.32,131.69)" font-size="37.89">0.0</text>
<text transform="translate(1170.58,225.21)" font-size="37.96">-0.2</text>
<text transform="translate(1170.66,319.25)" font-size="37.69">-0.4</text>
<text transform="translate(1180.59,407.99)" font-size="38.06">0.2</text>
<text transform="translate(1180.59,482.99)" font-size="38.05">0.0</text>
<text transform="translate(1169.78,565.09)" font-size="37.41">-0.2</text>
<text transform="translate(1169.62,649.51)" font-size="37.18">-0.4</text>
<text transform="translate(1233.90,348.90) scale(1.0562,1)" font-size="34.69">N</text>
<text transform="translate(1452.55,349.40) scale(1.1454,1)" font-size="34.92">Γ</text>
<text transform="translate(1661.80,348.90) scale(1.0562,1)" font-size="34.69">N</text>
<text transform="translate(1688.54,361.94)" font-size="24.00">1</text>
<text transform="translate(1236.91,715.50) scale(1.0572,1)" font-size="34.31">N</text>
<text transform="translate(1263.73,722.25)" font-size="22.42">1</text>
<text transform="translate(1456.50,718.60) scale(1.1134,1)" font-size="34.08">Z</text>
<text transform="translate(1667.53,719.70) scale(1.0442,1)" font-size="35.46">Y</text>
<text transform="translate(1121.50,418.34) rotate(-90) scale(1.0103,1)" font-size="47.38">E-E</text>
<text transform="translate(1141.25,342.22) rotate(-90) scale(0.9233,1)" font-size="34.92">F</text>
<text transform="translate(1122.60,311.83) rotate(-90) scale(1.0163,1)" font-size="47.54">(eV)</text>
<text transform="translate(-2.75,18.84) scale(1.15,0.9)" font-size="46">a</text>
<clipPath id="cbtf"><rect x="1247.4" y="25.2" width="433.1999999999998" height="284.1"/></clipPath>
<clipPath id="cbt"><rect x="1237.4" y="17.2" width="453.1999999999998" height="300.1"/></clipPath>
<g clip-path="url(#cbt)">
<g fill="#670748"><circle cx="1442.6" cy="221.1" r="0.23"/><circle cx="1445.0" cy="213.0" r="2.57"/><circle cx="1447.3" cy="206.4" r="5.67"/><circle cx="1449.7" cy="203.7" r="7.30"/><circle cx="1452.0" cy="202.6" r="7.30"/><circle cx="1454.3" cy="202.2" r="7.30"/><circle cx="1456.7" cy="202.0" r="7.30"/><circle cx="1459.0" cy="201.9" r="7.30"/><circle cx="1461.4" cy="201.8" r="7.30"/><circle cx="1463.8" cy="201.8" r="7.30"/><circle cx="1466.1" cy="201.8" r="7.30"/><circle cx="1468.5" cy="201.9" r="7.30"/><circle cx="1470.8" cy="202.0" r="7.30"/><circle cx="1473.2" cy="202.2" r="7.30"/><circle cx="1475.5" cy="202.6" r="7.30"/><circle cx="1477.8" cy="203.7" r="7.30"/><circle cx="1480.2" cy="206.4" r="5.67"/><circle cx="1482.5" cy="213.0" r="2.57"/><circle cx="1484.9" cy="221.1" r="0.23"/></g>
<g fill="#008b00"><circle cx="1362.7" cy="305.0" r="6.30"/><circle cx="1365.0" cy="300.0" r="6.30"/><circle cx="1367.4" cy="294.4" r="6.30"/><circle cx="1369.8" cy="288.8" r="6.30"/><circle cx="1372.1" cy="284.3" r="6.30"/><circle cx="1374.5" cy="280.4" r="6.30"/><circle cx="1376.8" cy="277.3" r="6.30"/><circle cx="1379.2" cy="274.9" r="6.30"/><circle cx="1381.5" cy="272.8" r="6.30"/><circle cx="1383.8" cy="271.1" r="6.30"/><circle cx="1386.2" cy="270.2" r="6.30"/><circle cx="1388.5" cy="269.8" r="6.30"/><circle cx="1390.9" cy="269.5" r="6.30"/><circle cx="1393.2" cy="269.3" r="6.30"/><circle cx="1395.6" cy="269.3" r="6.30"/><circle cx="1398.0" cy="269.5" r="6.30"/><circle cx="1400.3" cy="269.9" r="6.30"/><circle cx="1402.7" cy="270.4" r="6.30"/><circle cx="1405.0" cy="270.9" r="6.30"/><circle cx="1407.3" cy="271.3" r="6.30"/><circle cx="1409.7" cy="271.7" r="6.30"/><circle cx="1412.0" cy="272.1" r="6.30"/><circle cx="1414.4" cy="272.5" r="6.30"/><circle cx="1416.8" cy="272.7" r="6.30"/><circle cx="1419.1" cy="272.7" r="6.30"/><circle cx="1421.5" cy="272.3" r="6.30"/><circle cx="1423.8" cy="271.5" r="6.30"/><circle cx="1426.2" cy="270.2" r="6.30"/><circle cx="1428.5" cy="267.1" r="6.30"/><circle cx="1430.8" cy="262.7" r="6.30"/><circle cx="1433.2" cy="255.4" r="6.30"/><circle cx="1435.5" cy="246.3" r="6.30"/><circle cx="1437.9" cy="237.2" r="6.30"/><circle cx="1440.2" cy="229.0" r="6.30"/><circle cx="1442.6" cy="221.1" r="6.30"/><circle cx="1445.0" cy="213.0" r="5.77"/><circle cx="1447.3" cy="206.4" r="4.44"/><circle cx="1449.7" cy="203.7" r="2.98"/><circle cx="1452.0" cy="202.6" r="2.07"/><circle cx="1454.3" cy="202.2" r="2.00"/><circle cx="1456.7" cy="202.0" r="2.00"/><circle cx="1459.0" cy="201.9" r="2.00"/><circle cx="1461.4" cy="201.8" r="2.00"/><circle cx="1463.8" cy="201.8" r="2.00"/><circle cx="1466.1" cy="201.8" r="2.00"/><circle cx="1468.5" cy="201.9" r="2.00"/><circle cx="1470.8" cy="202.0" r="2.00"/><circle cx="1473.2" cy="202.2" r="2.00"/><circle cx="1475.5" cy="202.6" r="2.07"/><circle cx="1477.8" cy="203.7" r="2.98"/><circle cx="1480.2" cy="206.4" r="4.44"/><circle cx="1482.5" cy="213.0" r="5.77"/><circle cx="1484.9" cy="221.1" r="6.30"/><circle cx="1487.2" cy="229.0" r="6.30"/><circle cx="1489.6" cy="237.2" r="6.30"/><circle cx="1492.0" cy="246.3" r="6.30"/><circle cx="1494.3" cy="255.4" r="6.30"/><circle cx="1496.7" cy="262.7" r="6.30"/><circle cx="1499.0" cy="267.1" r="6.30"/><circle cx="1501.3" cy="270.2" r="6.30"/><circle cx="1503.7" cy="271.5" r="6.30"/><circle cx="1506.0" cy="272.3" r="6.30"/><circle cx="1508.4" cy="272.7" r="6.30"/><circle cx="1510.8" cy="272.7" r="6.30"/><circle cx="1513.1" cy="272.5" r="6.30"/><circle cx="1515.5" cy="272.1" r="6.30"/><circle cx="1517.8" cy="271.7" r="6.30"/><circle cx="1520.2" cy="271.3" r="6.30"/><circle cx="1522.5" cy="270.9" r="6.30"/><circle cx="1524.8" cy="270.4" r="6.30"/><circle cx="1527.2" cy="269.9" r="6.30"/><circle cx="1529.5" cy="269.5" r="6.30"/><circle cx="1531.9" cy="269.3" r="6.30"/><circle cx="1534.2" cy="269.3" r="6.30"/><circle cx="1536.6" cy="269.5" r="6.30"/><circle cx="1539.0" cy="269.8" r="6.30"/><circle cx="1541.3" cy="270.2" r="6.30"/><circle cx="1543.7" cy="271.1" r="6.30"/><circle cx="1546.0" cy="272.8" r="6.30"/><circle cx="1548.3" cy="274.9" r="6.30"/><circle cx="1550.7" cy="277.3" r="6.30"/><circle cx="1553.0" cy="280.4" r="6.30"/><circle cx="1555.4" cy="284.3" r="6.30"/><circle cx="1557.8" cy="288.8" r="6.30"/><circle cx="1560.1" cy="294.4" r="6.30"/><circle cx="1562.5" cy="300.0" r="6.30"/><circle cx="1564.8" cy="305.0" r="6.30"/></g>
<g fill="#008b00"><circle cx="1437.9" cy="174.1" r="0.98"/><circle cx="1440.2" cy="171.9" r="5.72"/><circle cx="1442.6" cy="168.4" r="7.30"/><circle cx="1445.0" cy="164.5" r="7.30"/><circle cx="1447.3" cy="158.6" r="7.30"/><circle cx="1449.7" cy="150.5" r="7.30"/><circle cx="1452.0" cy="141.2" r="7.31"/><circle cx="1454.3" cy="132.3" r="7.77"/><circle cx="1456.7" cy="123.6" r="8.49"/><circle cx="1459.0" cy="117.9" r="8.80"/><circle cx="1461.4" cy="114.4" r="8.80"/><circle cx="1463.8" cy="112.8" r="8.80"/><circle cx="1466.1" cy="114.4" r="8.80"/><circle cx="1468.5" cy="117.9" r="8.80"/><circle cx="1470.8" cy="123.6" r="8.49"/><circle cx="1473.2" cy="132.3" r="7.77"/><circle cx="1475.5" cy="141.2" r="7.31"/><circle cx="1477.8" cy="150.5" r="7.30"/><circle cx="1480.2" cy="158.6" r="7.30"/><circle cx="1482.5" cy="164.5" r="7.30"/><circle cx="1484.9" cy="168.4" r="7.30"/><circle cx="1487.2" cy="171.9" r="5.72"/><circle cx="1489.6" cy="174.1" r="0.98"/></g>
<polyline clip-path="url(#cbtf)" points="1374.5,29.0 1376.8,40.5 1379.2,52.0 1381.5,63.0 1383.8,73.0 1386.2,82.4 1388.5,91.0 1390.9,100.0 1393.2,108.0 1395.6,116.0 1398.0,124.0 1400.3,128.5 1402.7,132.1 1405.0,136.5 1407.3,141.3 1409.7,145.5 1412.0,149.4 1414.4,153.0 1416.8,156.2 1419.1,159.2 1421.5,161.9 1423.8,164.4 1426.2,166.8 1428.5,169.4 1430.8,172.2 1433.2,174.0 1435.5,175.0 1437.9,174.1 1440.2,171.9 1442.6,168.4 1445.0,164.5 1447.3,158.6 1449.7,150.5 1452.0,141.2 1454.3,132.3 1456.7,123.6 1459.0,117.9 1461.4,114.4 1463.8,112.8 1466.1,114.4 1468.5,117.9 1470.8,123.6 1473.2,132.3 1475.5,141.2 1477.8,150.5 1480.2,158.6 1482.5,164.5 1484.9,168.4 1487.2,171.9 1489.6,174.1 1492.0,175.0 1494.3,174.0 1496.7,172.2 1499.0,169.4 1501.3,166.8 1503.7,164.4 1506.0,161.9 1508.4,159.2 1510.8,156.2 1513.1,153.0 1515.5,149.4 1517.8,145.5 1520.2,141.3 1522.5,136.5 1524.8,132.1 1527.2,128.5 1529.5,124.0 1531.9,116.0 1534.2,108.0 1536.6,100.0 1539.0,91.0 1541.3,82.4 1543.7,73.0 1546.0,63.0 1548.3,52.0 1550.7,40.5 1553.0,29.0" fill="none" stroke="#670748" stroke-width="1.2"/>
<g fill="#670748"><circle cx="1374.5" cy="29.0" r="5.80"/><circle cx="1376.8" cy="40.5" r="5.80"/><circle cx="1379.2" cy="52.0" r="5.80"/><circle cx="1381.5" cy="63.0" r="5.80"/><circle cx="1383.8" cy="73.0" r="5.80"/><circle cx="1386.2" cy="82.4" r="5.80"/><circle cx="1388.5" cy="91.0" r="5.80"/><circle cx="1390.9" cy="100.0" r="5.80"/><circle cx="1393.2" cy="108.0" r="5.80"/><circle cx="1395.6" cy="116.0" r="5.80"/><circle cx="1398.0" cy="124.0" r="5.80"/><circle cx="1400.3" cy="128.5" r="5.80"/><circle cx="1402.7" cy="132.1" r="5.80"/><circle cx="1405.0" cy="136.5" r="5.80"/><circle cx="1407.3" cy="141.3" r="5.80"/><circle cx="1409.7" cy="145.5" r="5.80"/><circle cx="1412.0" cy="149.4" r="5.80"/><circle cx="1414.4" cy="153.0" r="5.80"/><circle cx="1416.8" cy="156.2" r="5.80"/><circle cx="1419.1" cy="159.2" r="5.80"/><circle cx="1421.5" cy="161.9" r="5.80"/><circle cx="1423.8" cy="164.4" r="5.80"/><circle cx="1426.2" cy="166.8" r="5.80"/><circle cx="1428.5" cy="169.4" r="5.80"/><circle cx="1430.8" cy="172.2" r="5.80"/><circle cx="1433.2" cy="174.0" r="5.80"/><circle cx="1435.5" cy="175.0" r="5.80"/><circle cx="1437.9" cy="174.1" r="5.80"/><circle cx="1440.2" cy="171.9" r="5.80"/><circle cx="1442.6" cy="168.4" r="5.63"/><circle cx="1445.0" cy="164.5" r="3.97"/><circle cx="1447.3" cy="158.6" r="2.07"/><circle cx="1449.7" cy="150.5" r="1.60"/><circle cx="1452.0" cy="141.2" r="1.60"/><circle cx="1454.3" cy="132.3" r="1.60"/><circle cx="1456.7" cy="123.6" r="1.60"/><circle cx="1459.0" cy="117.9" r="1.60"/><circle cx="1461.4" cy="114.4" r="1.60"/><circle cx="1463.8" cy="112.8" r="1.60"/><circle cx="1466.1" cy="114.4" r="1.60"/><circle cx="1468.5" cy="117.9" r="1.60"/><circle cx="1470.8" cy="123.6" r="1.60"/><circle cx="1473.2" cy="132.3" r="1.60"/><circle cx="1475.5" cy="141.2" r="1.60"/><circle cx="1477.8" cy="150.5" r="1.60"/><circle cx="1480.2" cy="158.6" r="2.07"/><circle cx="1482.5" cy="164.5" r="3.97"/><circle cx="1484.9" cy="168.4" r="5.63"/><circle cx="1487.2" cy="171.9" r="5.80"/><circle cx="1489.6" cy="174.1" r="5.80"/><circle cx="1492.0" cy="175.0" r="5.80"/><circle cx="1494.3" cy="174.0" r="5.80"/><circle cx="1496.7" cy="172.2" r="5.80"/><circle cx="1499.0" cy="169.4" r="5.80"/><circle cx="1501.3" cy="166.8" r="5.80"/><circle cx="1503.7" cy="164.4" r="5.80"/><circle cx="1506.0" cy="161.9" r="5.80"/><circle cx="1508.4" cy="159.2" r="5.80"/><circle cx="1510.8" cy="156.2" r="5.80"/><circle cx="1513.1" cy="153.0" r="5.80"/><circle cx="1515.5" cy="149.4" r="5.80"/><circle cx="1517.8" cy="145.5" r="5.80"/><circle cx="1520.2" cy="141.3" r="5.80"/><circle cx="1522.5" cy="136.5" r="5.80"/><circle cx="1524.8" cy="132.1" r="5.80"/><circle cx="1527.2" cy="128.5" r="5.80"/><circle cx="1529.5" cy="124.0" r="5.80"/><circle cx="1531.9" cy="116.0" r="5.80"/><circle cx="1534.2" cy="108.0" r="5.80"/><circle cx="1536.6" cy="100.0" r="5.80"/><circle cx="1539.0" cy="91.0" r="5.80"/><circle cx="1541.3" cy="82.4" r="5.80"/><circle cx="1543.7" cy="73.0" r="5.80"/><circle cx="1546.0" cy="63.0" r="5.80"/><circle cx="1548.3" cy="52.0" r="5.80"/><circle cx="1550.7" cy="40.5" r="5.80"/><circle cx="1553.0" cy="29.0" r="5.80"/></g>
</g>
<line x1="1247.4" y1="123.00" x2="1680.6" y2="123.00" stroke="#000" stroke-width="2.6" stroke-dasharray="9.7 5.6"/>
<line x1="1463.75" y1="25.2" x2="1463.75" y2="309.3" stroke="#000" stroke-width="1.6"/>
<path d="M1247.4 30.00h17.5M1680.6 30.00h-17.5M1247.4 76.50h9M1680.6 76.50h-9M1247.4 123.00h17.5M1680.6 123.00h-17.5M1247.4 169.50h9M1680.6 169.50h-9M1247.4 216.00h17.5M1680.6 216.00h-17.5M1247.4 262.50h9M1680.6 262.50h-9" stroke="#000" stroke-width="1.6" fill="none"/>
<path d="M1246.0500000000002 25.2H1681.9499999999998M1246.0500000000002 309.3H1681.9499999999998" stroke="#000" stroke-width="2.1" fill="none"/>
<path d="M1247.4 24.15V310.35M1680.6 24.15V310.35" stroke="#000" stroke-width="2.7" fill="none"/>
<clipPath id="cbbf"><rect x="1247.4" y="395.0" width="433.1999999999998" height="284.20000000000005"/></clipPath>
<clipPath id="cbb"><rect x="1237.4" y="387.0" width="453.1999999999998" height="300.20000000000005"/></clipPath>
<g clip-path="url(#cbb)">
<circle cx="1468.0" cy="548" r="7.8" fill="#008b00"/>
<polyline points="1292.4,676.7 1295.3,665.9 1298.2,654.4 1301.0,642.9 1303.9,631.5 1306.8,620.8 1309.7,610.3 1312.5,599.2 1315.4,587.9 1318.3,577.1 1321.1,566.3 1324.0,555.1 1326.9,544.0 1329.7,533.9 1332.6,523.9 1335.5,512.5 1338.3,500.6 1341.2,489.2 1344.1,478.1 1347.0,467.1 1349.8,456.1 1352.7,444.7 1355.6,434.0 1358.4,424.3 1361.3,415.0 1364.2,405.6 1367.0,396.2 1369.9,386.3 1395.8,388.0 1398.6,396.7 1401.5,404.4 1404.4,412.0 1407.2,419.5 1410.1,427.3 1413.0,435.3 1415.8,443.5 1418.7,451.7 1421.6,459.8 1424.5,467.6 1427.3,475.1 1430.2,483.2 1433.1,491.4 1435.9,499.3 1438.8,506.9 1441.7,514.3 1444.5,521.4 1447.4,528.4 1450.3,535.2 1453.2,541.4 1456.0,547.0 1458.9,551.0 1461.8,553.5 1464.6,554.5 1467.5,553.9 1470.9,552.1 1473.9,550.3 1476.8,548.5 1479.8,546.6 1482.7,544.4 1485.7,541.6 1488.6,538.3 1491.6,534.0 1494.5,529.2 1497.5,523.9 1500.4,518.2 1503.4,512.4 1506.3,506.4 1509.2,500.0 1512.2,493.6 1515.2,487.1 1518.1,480.8 1521.1,474.6 1524.0,469.0 1527.0,464.1 1529.9,460.6 1532.9,458.1 1535.8,456.8 1538.8,456.1 1541.7,456.3 1544.7,457.7 1547.6,459.7 1550.6,462.9 1553.5,467.3 1556.5,472.7 1559.4,478.9 1562.4,486.0 1565.3,493.1 1568.2,500.1 1571.2,507.9 1574.2,516.3 1577.1,525.9 1580.1,536.9 1583.0,547.4 1586.0,557.2 1588.9,567.0 1591.9,576.9 1594.8,587.8 1597.8,598.2 1600.7,608.6 1603.7,618.9 1606.6,629.3 1609.6,639.5 1612.5,650.4 1615.5,661.2 1618.4,671.4" clip-path="url(#cbbf)" fill="none" stroke="#670748" stroke-width="1.2"/>
<g fill="#670748"><circle cx="1292.4" cy="676.7" r="6.00"/><circle cx="1295.3" cy="665.9" r="6.00"/><circle cx="1298.2" cy="654.4" r="6.00"/><circle cx="1301.0" cy="642.9" r="6.00"/><circle cx="1303.9" cy="631.5" r="6.00"/><circle cx="1306.8" cy="620.8" r="6.00"/><circle cx="1309.7" cy="610.3" r="6.00"/><circle cx="1312.5" cy="599.2" r="6.00"/><circle cx="1315.4" cy="587.9" r="6.00"/><circle cx="1318.3" cy="577.1" r="6.00"/><circle cx="1321.1" cy="566.3" r="6.00"/><circle cx="1324.0" cy="555.1" r="6.00"/><circle cx="1326.9" cy="544.0" r="6.00"/><circle cx="1329.7" cy="533.9" r="6.00"/><circle cx="1332.6" cy="523.9" r="6.00"/><circle cx="1335.5" cy="512.5" r="6.00"/><circle cx="1338.3" cy="500.6" r="6.00"/><circle cx="1341.2" cy="489.2" r="6.00"/><circle cx="1344.1" cy="478.1" r="6.00"/><circle cx="1347.0" cy="467.1" r="6.00"/><circle cx="1349.8" cy="456.1" r="6.00"/><circle cx="1352.7" cy="444.7" r="6.00"/><circle cx="1355.6" cy="434.0" r="6.00"/><circle cx="1358.4" cy="424.3" r="6.00"/><circle cx="1361.3" cy="415.0" r="6.00"/><circle cx="1364.2" cy="405.6" r="6.00"/><circle cx="1367.0" cy="396.2" r="6.00"/><circle cx="1398.6" cy="396.7" r="6.00"/><circle cx="1401.5" cy="404.4" r="6.00"/><circle cx="1404.4" cy="412.0" r="6.00"/><circle cx="1407.2" cy="419.5" r="6.00"/><circle cx="1410.1" cy="427.3" r="6.00"/><circle cx="1413.0" cy="435.3" r="6.00"/><circle cx="1415.8" cy="443.5" r="6.00"/><circle cx="1418.7" cy="451.7" r="6.00"/><circle cx="1421.6" cy="459.8" r="6.00"/><circle cx="1424.5" cy="467.6" r="6.00"/><circle cx="1427.3" cy="475.1" r="6.00"/><circle cx="1430.2" cy="483.2" r="6.00"/><circle cx="1433.1" cy="491.4" r="6.00"/><circle cx="1435.9" cy="499.3" r="6.00"/><circle cx="1438.8" cy="506.9" r="6.00"/><circle cx="1441.7" cy="514.3" r="6.00"/><circle cx="1444.5" cy="521.4" r="6.00"/><circle cx="1447.4" cy="528.4" r="6.00"/><circle cx="1450.3" cy="535.2" r="6.00"/><circle cx="1453.2" cy="541.4" r="6.00"/><circle cx="1456.0" cy="547.0" r="6.00"/><circle cx="1458.9" cy="551.0" r="6.00"/><circle cx="1461.8" cy="553.5" r="6.00"/><circle cx="1464.6" cy="554.5" r="6.00"/><circle cx="1467.5" cy="553.9" r="6.00"/><circle cx="1470.9" cy="552.1" r="6.00"/><circle cx="1473.9" cy="550.3" r="6.00"/><circle cx="1476.8" cy="548.5" r="6.00"/><circle cx="1479.8" cy="546.6" r="6.00"/><circle cx="1482.7" cy="544.4" r="6.00"/><circle cx="1485.7" cy="541.6" r="6.00"/><circle cx="1488.6" cy="538.3" r="6.00"/><circle cx="1491.6" cy="534.0" r="6.00"/><circle cx="1494.5" cy="529.2" r="6.00"/><circle cx="1497.5" cy="523.9" r="6.00"/><circle cx="1500.4" cy="518.2" r="6.00"/><circle cx="1503.4" cy="512.4" r="6.00"/><circle cx="1506.3" cy="506.4" r="6.00"/><circle cx="1509.2" cy="500.0" r="6.00"/><circle cx="1512.2" cy="493.6" r="6.00"/><circle cx="1515.2" cy="487.1" r="6.00"/><circle cx="1518.1" cy="480.8" r="6.00"/><circle cx="1521.1" cy="474.6" r="6.00"/><circle cx="1524.0" cy="469.0" r="6.00"/><circle cx="1527.0" cy="464.1" r="6.00"/><circle cx="1529.9" cy="460.6" r="6.00"/><circle cx="1532.9" cy="458.1" r="6.00"/><circle cx="1535.8" cy="456.8" r="6.00"/><circle cx="1538.8" cy="456.1" r="6.00"/><circle cx="1541.7" cy="456.3" r="6.00"/><circle cx="1544.7" cy="457.7" r="6.00"/><circle cx="1547.6" cy="459.7" r="6.00"/><circle cx="1550.6" cy="462.9" r="6.00"/><circle cx="1553.5" cy="467.3" r="6.00"/><circle cx="1556.5" cy="472.7" r="6.00"/><circle cx="1559.4" cy="478.9" r="6.00"/><circle cx="1562.4" cy="486.0" r="6.00"/><circle cx="1565.3" cy="493.1" r="6.00"/><circle cx="1568.2" cy="500.1" r="6.00"/><circle cx="1571.2" cy="507.9" r="6.00"/><circle cx="1574.2" cy="516.3" r="6.00"/><circle cx="1577.1" cy="525.9" r="6.00"/><circle cx="1580.1" cy="536.9" r="6.00"/><circle cx="1583.0" cy="547.4" r="6.00"/><circle cx="1586.0" cy="557.2" r="6.00"/><circle cx="1588.9" cy="567.0" r="6.00"/><circle cx="1591.9" cy="576.9" r="6.00"/><circle cx="1594.8" cy="587.8" r="6.00"/><circle cx="1597.8" cy="598.2" r="6.00"/><circle cx="1600.7" cy="608.6" r="6.00"/><circle cx="1603.7" cy="618.9" r="6.00"/><circle cx="1606.6" cy="629.3" r="6.00"/><circle cx="1609.6" cy="639.5" r="6.00"/><circle cx="1612.5" cy="650.4" r="6.00"/><circle cx="1615.5" cy="661.2" r="6.00"/><circle cx="1618.4" cy="671.4" r="6.00"/></g>
<polyline points="1440.0,700.0 1442.9,682.0 1445.7,663.6 1448.5,645.0 1451.3,626.0 1454.1,609.0 1457.0,593.5 1459.8,582.0 1462.3,578.0 1465.1,575.0 1468.0,574.0 1471.1,575.5 1474.2,579.5 1477.2,586.0 1480.3,597.0 1483.4,610.4 1486.4,624.7 1489.3,639.0 1492.3,652.7 1495.4,665.4 1498.3,676.8 1501.2,688.0" clip-path="url(#cbbf)" fill="none" stroke="#008b00" stroke-width="1.3"/>
<circle cx="1465.1" cy="575" r="6" fill="#008b00"/>
<circle cx="1462.3" cy="578" r="6" fill="#008b00"/>
<circle cx="1459.8" cy="582" r="6.4" fill="#008b00"/>
<circle cx="1457" cy="593.5" r="6.4" fill="#008b00"/>
<circle cx="1454.1" cy="609" r="6.4" fill="#008b00"/>
<circle cx="1451.3" cy="626" r="6.4" fill="#008b00"/>
<circle cx="1448.5" cy="645" r="6.4" fill="#008b00"/>
<circle cx="1445.7" cy="663.6" r="6.4" fill="#008b00"/>
<circle cx="1471.1" cy="575.5" r="6" fill="#008b00"/>
<circle cx="1474.2" cy="579.5" r="6" fill="#008b00"/>
<circle cx="1477.2" cy="586" r="6.4" fill="#008b00"/>
<circle cx="1480.3" cy="597" r="6.4" fill="#008b00"/>
<circle cx="1483.4" cy="610.4" r="6.4" fill="#008b00"/>
<circle cx="1486.4" cy="624.7" r="6.4" fill="#008b00"/>
<circle cx="1489.3" cy="639" r="6.4" fill="#008b00"/>
<circle cx="1492.3" cy="652.7" r="6.4" fill="#008b00"/>
<circle cx="1495.4" cy="665.4" r="6.4" fill="#008b00"/>
<circle cx="1498.3" cy="676.8" r="6.4" fill="#008b00"/>
<circle cx="1468" cy="574" r="7.2" fill="#670748"/>
<circle cx="1465.1" cy="575" r="7.2" fill="#670748"/>
<circle cx="1462.3" cy="578" r="7.2" fill="#670748"/>
<circle cx="1459.8" cy="582" r="5.0" fill="#670748"/>
<circle cx="1457" cy="593.5" r="2.8" fill="#670748"/>
<circle cx="1454.1" cy="609" r="2.8" fill="#670748"/>
<circle cx="1451.3" cy="626" r="2.8" fill="#670748"/>
<circle cx="1448.5" cy="645" r="2.8" fill="#670748"/>
<circle cx="1445.7" cy="663.6" r="2.8" fill="#670748"/>
<circle cx="1471.1" cy="575.5" r="7.2" fill="#670748"/>
<circle cx="1474.2" cy="579.5" r="7.2" fill="#670748"/>
<circle cx="1477.2" cy="586" r="5.0" fill="#670748"/>
<circle cx="1480.3" cy="597" r="2.8" fill="#670748"/>
<circle cx="1483.4" cy="610.4" r="2.8" fill="#670748"/>
<circle cx="1486.4" cy="624.7" r="2.8" fill="#670748"/>
<circle cx="1489.3" cy="639" r="2.8" fill="#670748"/>
<circle cx="1492.3" cy="652.7" r="2.8" fill="#670748"/>
<circle cx="1495.4" cy="665.4" r="2.8" fill="#670748"/>
<circle cx="1498.3" cy="676.8" r="2.8" fill="#670748"/>
<circle cx="1457.2" cy="673" r="5.5" fill="#008b00"/>
<circle cx="1460" cy="665.8" r="5.5" fill="#008b00"/>
<circle cx="1463.2" cy="658.3" r="5.5" fill="#008b00"/>
<circle cx="1465.7" cy="655" r="5.5" fill="#008b00"/>
<circle cx="1468.2" cy="654" r="5.5" fill="#008b00"/>
<circle cx="1470.7" cy="655.3" r="5.5" fill="#008b00"/>
<circle cx="1473.3" cy="658.5" r="5.5" fill="#008b00"/>
<circle cx="1477.1" cy="665.8" r="5.5" fill="#008b00"/>
<circle cx="1480.6" cy="673.3" r="5.5" fill="#008b00"/>
<circle cx="1457.2" cy="673" r="3.9" fill="#670748"/>
<circle cx="1460" cy="665.8" r="3.9" fill="#670748"/>
<circle cx="1463.2" cy="658.3" r="3.9" fill="#670748"/>
<circle cx="1465.7" cy="655" r="3.9" fill="#670748"/>
<circle cx="1468.2" cy="654" r="3.9" fill="#670748"/>
<circle cx="1470.7" cy="655.3" r="3.9" fill="#670748"/>
<circle cx="1473.3" cy="658.5" r="3.9" fill="#670748"/>
<circle cx="1477.1" cy="665.8" r="3.9" fill="#670748"/>
<circle cx="1480.6" cy="673.3" r="3.9" fill="#670748"/>
</g>
<line x1="1247.4" y1="476.40" x2="1680.6" y2="476.40" stroke="#000" stroke-width="2.6" stroke-dasharray="9.7 5.6"/>
<line x1="1468.0" y1="395.0" x2="1468.0" y2="679.2" stroke="#000" stroke-width="1.6"/>
<path d="M1247.4 435.70h9M1680.6 435.70h-9M1247.4 476.40h17.5M1680.6 476.40h-17.5M1247.4 517.10h9M1680.6 517.10h-9M1247.4 557.80h17.5M1680.6 557.80h-17.5M1247.4 598.50h9M1680.6 598.50h-9M1247.4 639.20h17.5M1680.6 639.20h-17.5" stroke="#000" stroke-width="1.6" fill="none"/>
<path d="M1246.0500000000002 395.0H1681.9499999999998M1246.0500000000002 679.2H1681.9499999999998" stroke="#000" stroke-width="2.1" fill="none"/>
<path d="M1247.4 393.95V680.25M1680.6 393.95V680.25" stroke="#000" stroke-width="2.7" fill="none"/>
<path d="M1438 707.2H1292" stroke="#000" stroke-width="2.5"/>
<path d="M1283.5 707.2L1299 701.8L1295.5 707.2L1299 712.6Z" fill="#000"/>
<path d="M1500.4 707.2H1647" stroke="#000" stroke-width="2.5"/>
<path d="M1655 707.2L1640.4 701.8L1643.5 707.2L1640.4 712.6Z" fill="#000"/>
</svg></body></html>
